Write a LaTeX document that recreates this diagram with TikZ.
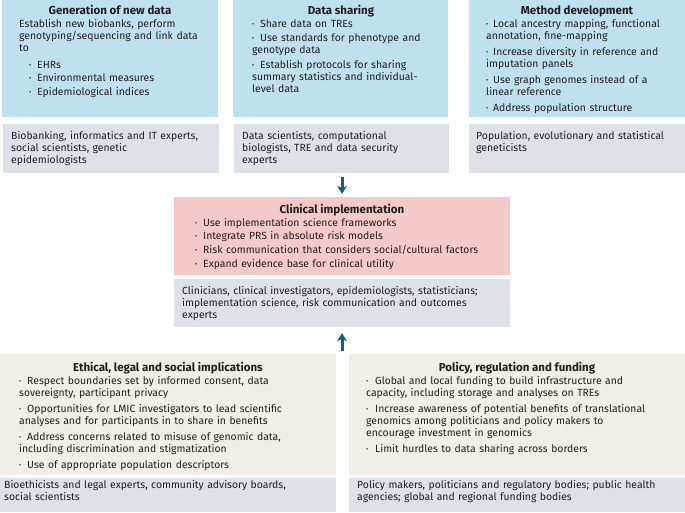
\documentclass[tikz,border=0pt]{standalone}
\usepackage{fontspec}
\setmainfont{Fira Sans}
\usetikzlibrary{arrows.meta}

\definecolor{boxblue}{RGB}{190,225,238}
\definecolor{boxgray}{RGB}{222,225,231}
\definecolor{boxred}{RGB}{244,201,199}
\definecolor{boxbeige}{RGB}{241,238,232}
\definecolor{flowc}{RGB}{18,96,128}
\definecolor{ink}{RGB}{35,31,32}

\newlength{\itmind}\setlength{\itmind}{8pt}
\newlength{\itmsep}\setlength{\itmsep}{3pt}
\newif\iffirstitm
\newcommand{\dotb}{\raisebox{1pt}{\fontsize{6.5}{6.5}\selectfont •}}
\newcommand{\itm}[1]{\iffirstitm\global\firstitmfalse\else\par\vspace{\itmsep}\fi
  \hangindent=\itmind\hangafter=1\noindent\makebox[\itmind][l]{\dotb}#1}

\tikzset{
  panel/.style={fill=#1, inner sep=0pt, outer sep=0pt},
  ttl/.style={anchor=base, inner sep=0pt, text=ink, font=\fontsize{11.5}{12}\selectfont\bfseries},
  body/.style={anchor=base west, inner sep=0pt, text=ink, align=left, text width=330pt,
    font=\fontsize{10.4}{12}\selectfont, execute at begin node=\global\firstitmtrue},
  flow/.style={-{Stealth[length=8pt,width=9.5pt,inset=2pt]}, line width=3pt, flowc},
}

\begin{document}
\begin{tikzpicture}[x=1pt,y=-1pt]
\useasboundingbox (0,0) rectangle (685,512);

% top row
\node[panel=boxblue, minimum width=216, minimum height=117] (gen) at (110,58.5) {};
\node[panel=boxblue, minimum width=215, minimum height=117] (share) at (340.5,58.5) {};
\node[panel=boxblue, minimum width=216, minimum height=117] (method) at (577,58.5) {};
\node[panel=boxgray, minimum width=216, minimum height=49] (genexp) at (111,148.5) {};
\node[panel=boxgray, minimum width=215, minimum height=49] (shareexp) at (341.5,148.5) {};
\node[panel=boxgray, minimum width=216, minimum height=49] (methodexp) at (577,148.5) {};

\node[ttl] (genttl) at (110,14) {Generation of new data};
\node[body] (gentxt) at (19,27) {Establish new biobanks, perform\\ genotyping/sequencing and link data\\ to};
\node[body] (genlist) at (29,68) {\setlength{\itmsep}{1.7pt}%
  \itm{EHRs}\itm{Environmental measures}\itm{Epidemiological indices}};
\node[ttl] (sharettl) at (341,14) {Data sharing};
\node[body] (sharetxt) at (252,27) {\setlength{\itmsep}{2.5pt}%
  \itm{Share data on TREs}
  \itm{Use standards for phenotype and\\ genotype data}
  \itm{Establish protocols for sharing\\ summary statistics and individual-\\ level data}};
\node[ttl] (methodttl) at (577,14) {Method development};
\node[body] (methodtxt) at (486,27) {\setlength{\itmind}{7pt}\setlength{\itmsep}{4pt}%
  \itm{Local ancestry mapping, functional\\ annotation, fine-mapping}
  \itm{Increase diversity in reference and\\ imputation panels}
  \itm{Use graph genomes instead of a\\ linear reference}
  \itm{Address population structure}};

\node[body] (genexptxt) at (11,139.5) {Biobanking, informatics and IT experts,\\ social scientists, genetic\\ epidemiologists};
\node[body] (shareexptxt) at (242,139.5) {Data scientists, computational\\ biologists, TRE and data security\\ experts};
\node[body] (methodexptxt) at (476,139.5) {Population, evolutionary and statistical\\ geneticists};

% middle
\node[panel=boxred, minimum width=336, minimum height=78] (clin) at (342,236) {};
\node[panel=boxgray, minimum width=336, minimum height=48] (clinexp) at (342,303) {};
\node[ttl] (clinttl) at (342,213) {Clinical implementation};
\node[body] (clintxt) at (195,226) {\setlength{\itmsep}{1.7pt}%
  \itm{Use implementation science frameworks}
  \itm{Integrate PRS in absolute risk models}
  \itm{Risk communication that considers social/cultural factors}
  \itm{Expand evidence base for clinical utility}};
\node[body] (clinexptxt) at (182,294.5) {Clinicians, clinical investigators, epidemiologists, statisticians;\\ implementation science, risk communication and outcomes\\ experts};

% bottom row
\node[panel=boxbeige, minimum width=336, minimum height=121] (ethics) at (168,414.5) {};
\node[panel=boxbeige, minimum width=336, minimum height=121] (policy) at (517,414.5) {};
\node[panel=boxgray, minimum width=336, minimum height=34] (ethicsexp) at (168,495) {};
\node[panel=boxgray, minimum width=336, minimum height=34] (policyexp) at (517,495) {};

\node[ttl] (ethicsttl) at (168,371) {Ethical, legal and social implications};
\node[body] (ethicstxt) at (19,384.5) {\setlength{\itmsep}{4pt}%
  \itm{Respect boundaries set by informed consent, data\\ sovereignty, participant privacy}
  \itm{Opportunities for LMIC investigators to lead scientific\\ analyses and for participants in to share in benefits}
  \itm{Address concerns related to misuse of genomic data,\\ including discrimination and stigmatization}
  \itm{Use of appropriate population descriptors}};
\node[ttl] (policyttl) at (517,371) {Policy, regulation and funding};
\node[body] (policytxt) at (366,384.5) {\setlength{\itmind}{9pt}\setlength{\itmsep}{4pt}%
  \itm{Global and local funding to build infrastructure and\\ capacity, including storage and analyses on TREs}
  \itm{Increase awareness of potential benefits of translational\\ genomics among politicians and policy makers to\\ encourage investment in genomics}
  \itm{Limit hurdles to data sharing across borders}};

\node[body] (ethicsexptxt) at (4,488.5) {Bioethicists and legal experts, community advisory boards,\\ social scientists};
\node[body] (policyexptxt) at (357,488.5) {Policy makers, politicians and regulatory bodies; public health\\ agencies; global and regional funding bodies};

% arrows
\coordinate (up) at (342,351);
\draw[flow, shorten <=4pt, shorten >=3pt] (shareexp.south -| clin.north) -- (clin.north);
\draw[flow, shorten >=6pt] (up) -- (clinexp.south);
\end{tikzpicture}
\end{document}
